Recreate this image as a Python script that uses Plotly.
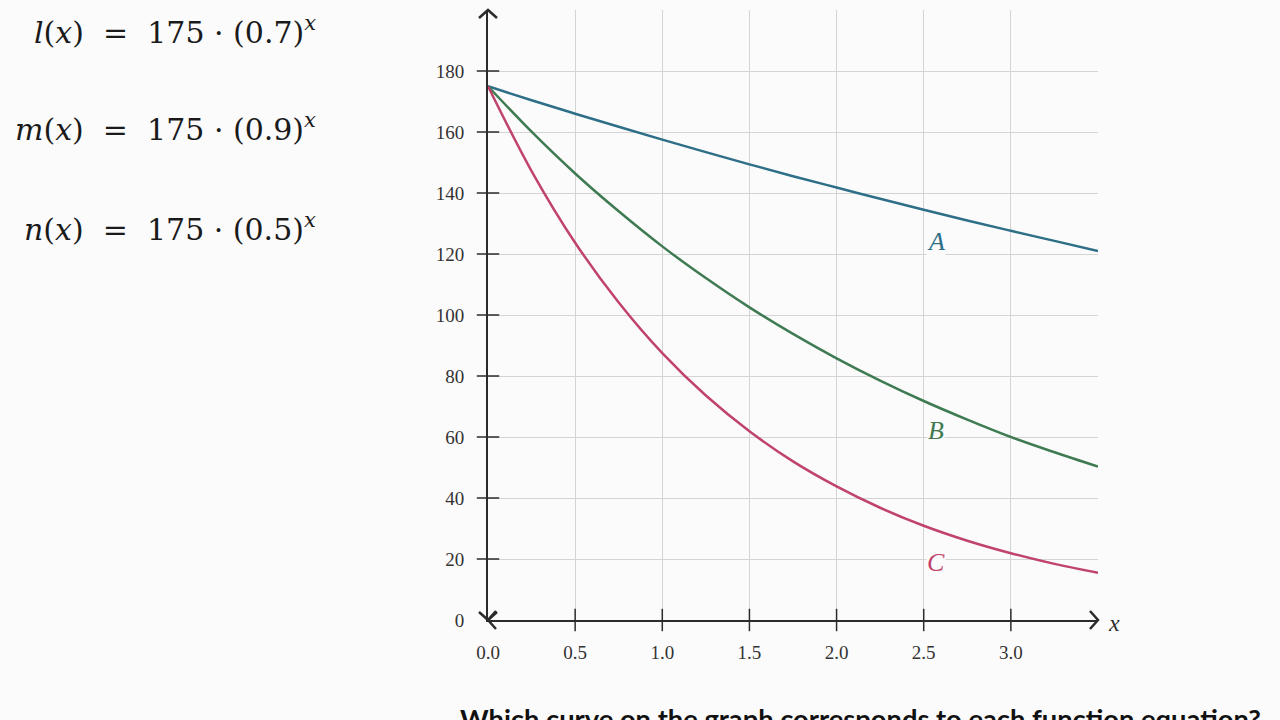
import plotly.graph_objects as go

# values
x_vals = [0, 0.25, 0.5, 0.75, 1.0, 1.25, 1.5, 1.75, 2.0, 2.25, 2.5, 2.75, 3.0, 3.25, 3.5]
curve_a = [175, 170.4, 166.0, 161.7, 157.5, 153.4, 149.4, 145.5, 141.8, 138.1, 134.5, 131.0, 127.6, 124.3, 121.0]
curve_b = [175, 160.1, 146.4, 134.0, 122.5, 112.1, 102.5, 93.8, 85.8, 78.5, 71.8, 65.7, 60.0, 55.0, 50.3]
curve_c = [175, 147.2, 123.7, 104.1, 87.5, 73.6, 61.9, 52.0, 43.8, 36.8, 30.9, 26.0, 21.9, 18.4, 15.5]

x_ticks = [0.0, 0.5, 1.0, 1.5, 2.0, 2.5, 3.0, 3.5]
x_tick_text = ["0.0", "0.5", "1.0", "1.5", "2.0", "2.5", "3.0", ""]
y_ticks = [0, 20, 40, 60, 80, 100, 120, 140, 160, 180, 200]
y_tick_text = ["0", "20", "40", "60", "80", "100", "120", "140", "160", "180", ""]

curve_names = ["A", "B", "C"]
label_x = [2.57, 2.57, 2.57]
label_y = [124, 62, 19]

equations = [
    "<i>l</i>(<i>x</i>)  =  175 · (0.7)<sup><i>x</i></sup>",
    "<i>m</i>(<i>x</i>)  =  175 · (0.9)<sup><i>x</i></sup>",
    "<i>n</i>(<i>x</i>)  =  175 · (0.5)<sup><i>x</i></sup>",
]

colors = ["#2e6f88", "#3f7b52", "#c0436c"]
bg = "#fcfbfb"
axis_col = "#2b2b2b"
serif = "Liberation Serif"

fig = go.Figure()

for ys, col in zip([curve_a, curve_b, curve_c], colors):
    fig.add_trace(go.Scatter(x=x_vals, y=ys, mode="lines", line=dict(color=col, width=2.5, shape="spline"),
                             showlegend=False, hoverinfo="skip"))

# small tick crosses on the axes
fig.add_trace(go.Scatter(x=[0] * (len(y_ticks) - 2), y=y_ticks[1:-1], mode="markers",
                         marker=dict(symbol="line-ew-open", size=16, color=axis_col,
                                     line=dict(color=axis_col, width=1.5)),
                         showlegend=False, hoverinfo="skip", cliponaxis=False))
fig.add_trace(go.Scatter(x=x_ticks[1:-1], y=[0] * (len(x_ticks) - 2), mode="markers",
                         marker=dict(symbol="line-ns-open", size=16, color=axis_col,
                                     line=dict(color=axis_col, width=1.5)),
                         showlegend=False, hoverinfo="skip", cliponaxis=False))

# arrow heads (paper refs so they are not clipped)
arrows = [
    (1, 0, "M -8 9 L 0 0 L -8 -9"),
    (0, 1, "M -9 -8 L 0 0 L 9 -8"),
    (0, 0, "M 8 9 L 0 0 L 8 -9"),
    (0, 0, "M -9 8 L 0 0 L 9 8"),
]
for ax, ay, p in arrows:
    fig.add_shape(type="path", xref="paper", yref="paper", xsizemode="pixel", ysizemode="pixel",
                  xanchor=ax, yanchor=ay, path=p, line=dict(color=axis_col, width=2.5), layer="above")

for name, lx, ly, col in zip(curve_names, label_x, label_y, colors):
    fig.add_annotation(x=lx, y=ly, text=f"<i>{name}</i>", showarrow=False, bgcolor=bg,
                       font=dict(family=serif, size=26, color=col), borderpad=0)

fig.add_annotation(x=3.5, y=0, text="<i>x</i>", showarrow=False, xanchor="left", xshift=8, yshift=-3,
                   font=dict(family=serif, size=24, color=axis_col))

for eq, ey in zip(equations, [0.967, 0.808, 0.644]):
    fig.add_annotation(xref="paper", yref="paper", x=-0.279, y=ey, text=eq, showarrow=False,
                       xanchor="right", yanchor="middle", font=dict(family="DejaVu Serif", size=30, color="#1a1a1a"))

fig.add_annotation(xref="paper", yref="paper", x=-0.049, y=-0.131, xanchor="left", yanchor="top",
                   text="<b>Which curve on the graph corresponds to each function equation?</b>",
                   showarrow=False, font=dict(family="Lato", size=27.3, color="#111111"))

fig.update_layout(
    width=1280, height=720,
    margin=dict(l=488, r=182, t=10, b=100),
    paper_bgcolor=bg, plot_bgcolor=bg,
    xaxis=dict(range=[0, 3.5], tickvals=x_ticks, ticktext=x_tick_text, showgrid=True,
               gridcolor="#d4d4d4", gridwidth=1, zeroline=False, showline=True, linecolor=axis_col,
               linewidth=2, ticks="", ticklabelstandoff=14,
               tickfont=dict(family=serif, size=19, color="#333333")),
    yaxis=dict(range=[0, 200], tickvals=y_ticks, ticktext=y_tick_text, showgrid=True,
               gridcolor="#d4d4d4", gridwidth=1, zeroline=False, showline=True, linecolor=axis_col,
               linewidth=2, ticks="", ticklabelstandoff=18,
               tickfont=dict(family=serif, size=19, color="#333333")),
)

fig.write_html("out.html", config={"displayModeBar": False},
               post_script="document.body.style.margin='0';document.body.style.background='%s';" % bg)
